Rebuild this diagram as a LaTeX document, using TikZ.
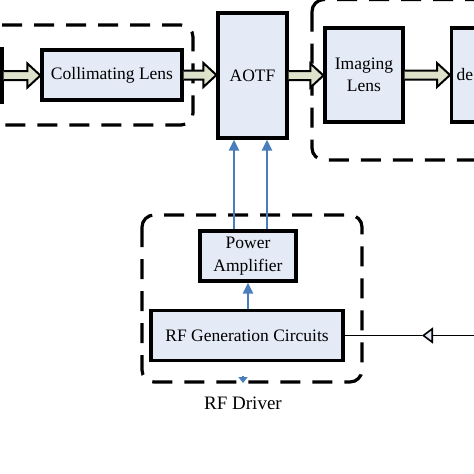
\documentclass[tikz,border=0pt]{standalone}
\usepackage{fontspec}
\setmainfont{Liberation Serif}
\usetikzlibrary{calc,arrows.meta}
\definecolor{boxfill}{HTML}{E4EAF6}
\definecolor{arrfill}{HTML}{DEE2CB}
\definecolor{sigblue}{HTML}{4A7EBB}
\tikzset{
  box/.style={draw=black, line width=3.2pt, fill=boxfill, inner sep=0pt, align=center,
    font=\fontsize{17.5}{22.5}\selectfont},
  group/.style={draw=black, line width=3.2pt, dash pattern=on 20pt off 12pt, rounded corners=12pt},
  fatarr/.style={draw=black, line width=2pt, fill=arrfill, line join=miter},
  sig/.style={draw=sigblue, line width=2.2pt, -{Triangle[length=11pt,width=10pt]}},
  sigsmall/.style={draw=sigblue, line width=2pt, -{Triangle[length=6pt,width=9pt]}},
  inline/.style={draw=black, line width=1.6pt},
  lbl/.style={font=\fontsize{19}{22}\selectfont, inner sep=0pt}
}
\newcommand\fatarrow[2]{%
  \draw[fatarr] let \p1=(#1), \p2=(#2) in
    (\x1,\y1+4.5pt) -- (\x2-13pt,\y1+4.5pt) -- (\x2-13pt,\y1+12pt) -- (\x2,\y1)
    -- (\x2-13pt,\y1-12pt) -- (\x2-13pt,\y1-4.5pt) -- (\x1,\y1-4.5pt);}
\begin{document}
\begin{tikzpicture}[x=1pt,y=-1pt]
\useasboundingbox (0,0) rectangle (474,474);
\clip (0,0) rectangle (474,474);
% dashed groups
\draw[group] (-40,25) rectangle (193,125);
\draw[group] (312,-0.5) rectangle (540,160);
\draw[group] (142,215) rectangle (362,382);
% boxes
\node[box, minimum width=62pt, minimum height=53pt] (src) at (-29,75.5) {};
\node[box, minimum width=140pt, minimum height=50pt] (col) at (112,75) {Collimating Lens};
\node[box, minimum width=69pt, minimum height=125pt] (aotf) at (252.5,75.5) {AOTF};
\node[box, minimum width=78pt, minimum height=94pt] (img) at (364,75) {Imaging\\Lens};
\node[box, minimum width=80pt, minimum height=94pt, text width=70pt, align=left, anchor=west] (det) at (450,75) {de};
\node[box, minimum width=96pt, minimum height=50pt] (pa) at (248,256) {Power\\Amplifier};
\node[box, minimum width=192pt, minimum height=50pt] (rfg) at (247,335.5) {RF Generation Circuits};
\node[lbl] (rfd) at (243,403) {RF Driver};
% fat optical arrows
\fatarrow{src.east}{col.west}
\fatarrow{col.east}{aotf.west}
\fatarrow{aotf.east}{img.west}
\fatarrow{img.east}{det.west}
% signal arrows
\coordinate (xa) at (234,0);
\coordinate (xb) at (267,0);
\draw[sig] (pa.north -| xa) -- (aotf.south -| xa);
\draw[sig] (pa.north -| xb) -- (aotf.south -| xb);
\draw[sig] (rfg.north -| pa.south) -- (pa.south);
\coordinate (b1) at (243,376);
\coordinate (b2) at (243,383);
\draw[sigsmall] (b1) -- (b2);
% input line
\coordinate (rin) at (490,335.5);
\coordinate (rmid) at (422,335.5);
\draw[inline, -{Triangle[length=11pt,width=16pt,fill=boxfill]}] (rin) -- (rmid);
\draw[inline] (rmid) -- (rfg.east);
\end{tikzpicture}
\end{document}
